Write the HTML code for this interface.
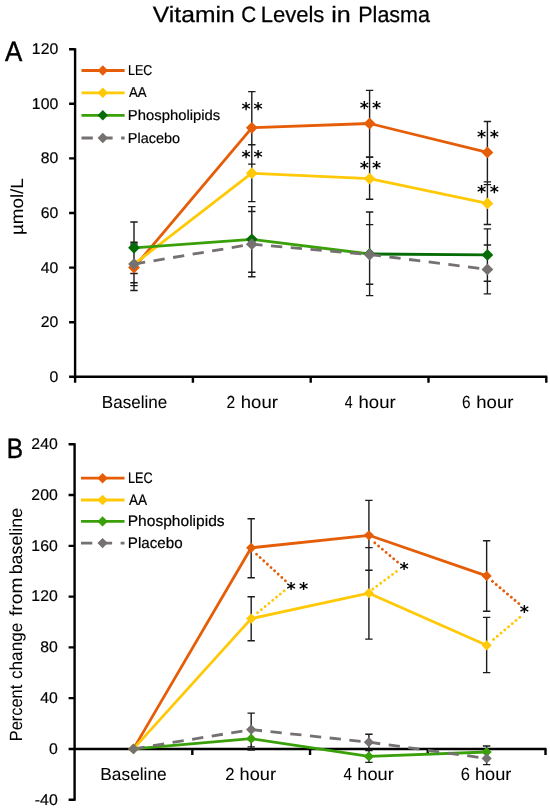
<!DOCTYPE html>
<html lang="en"><head><meta charset="utf-8"><title>Vitamin C Levels in Plasma</title>
<style>html,body{margin:0;padding:0;background:#fff}svg{display:block}text{font-family:"Liberation Sans", "DejaVu Sans", sans-serif;fill:#000;stroke:#000;stroke-width:0.2px;text-rendering:geometricPrecision}.st{font-family:"DejaVu Sans","Liberation Sans",sans-serif;font-weight:bold;stroke:none}.ns{stroke-width:0.25px}.pl{stroke-width:0.45px}.xl{stroke-width:0.06px}</style></head><body>
<svg width="550" height="809" viewBox="0 0 550 809">
<rect width="550" height="809" fill="#fff"/>
<text x="152.88" y="22.1" font-size="22.2" textLength="81.76" lengthAdjust="spacingAndGlyphs" class="ns">Vitamin</text>
<text x="241.26" y="22.1" font-size="22.2" textLength="15.02" lengthAdjust="spacingAndGlyphs" class="ns">C</text>
<text x="260.64" y="22.1" font-size="22.2" textLength="63.75" lengthAdjust="spacingAndGlyphs" class="ns">Levels</text>
<text x="331.27" y="22.1" font-size="22.2" textLength="19.55" lengthAdjust="spacingAndGlyphs" class="ns">in</text>
<text x="358.28" y="22.1" font-size="22.2" textLength="71.71" lengthAdjust="spacingAndGlyphs" class="ns">Plasma</text>
<g id="chartA">
<text x="4.97" y="61.3" font-size="28.2" textLength="17.28" lengthAdjust="spacingAndGlyphs" class="pl">A</text>
<text x="58.2" y="381.8" font-size="15.5" text-anchor="end" textLength="8.77" lengthAdjust="spacingAndGlyphs">0</text>
<text x="58.2" y="327.2" font-size="15.5" text-anchor="end" textLength="17.54" lengthAdjust="spacingAndGlyphs">20</text>
<text x="58.2" y="272.6" font-size="15.5" text-anchor="end" textLength="17.54" lengthAdjust="spacingAndGlyphs">40</text>
<text x="58.2" y="218.0" font-size="15.5" text-anchor="end" textLength="17.54" lengthAdjust="spacingAndGlyphs">60</text>
<text x="58.2" y="163.4" font-size="15.5" text-anchor="end" textLength="17.54" lengthAdjust="spacingAndGlyphs">80</text>
<text x="58.2" y="108.8" font-size="15.5" text-anchor="end" textLength="26.31" lengthAdjust="spacingAndGlyphs">100</text>
<text x="58.2" y="54.2" font-size="15.5" text-anchor="end" textLength="26.31" lengthAdjust="spacingAndGlyphs">120</text>
<text x="-1.32" y="0" font-size="17.6" textLength="56.91" lengthAdjust="spacingAndGlyphs" class="xl" transform="translate(22.7 233.8) rotate(-90)">µmol/L</text>
<text x="101.84" y="407.5" font-size="17.4" textLength="65.35" lengthAdjust="spacingAndGlyphs" class="xl">Baseline</text>
<text x="226.52" y="407.5" font-size="17.4" textLength="8.68" lengthAdjust="spacingAndGlyphs" class="xl">2</text>
<text x="240.8" y="407.5" font-size="17.4" textLength="37.1" lengthAdjust="spacingAndGlyphs" class="xl">hour</text>
<text x="344.7" y="407.5" font-size="17.4" textLength="7.9" lengthAdjust="spacingAndGlyphs" class="xl">4</text>
<text x="358.55" y="407.5" font-size="17.4" textLength="37.1" lengthAdjust="spacingAndGlyphs" class="xl">hour</text>
<text x="462.03" y="407.5" font-size="17.4" textLength="8.58" lengthAdjust="spacingAndGlyphs" class="xl">6</text>
<text x="476.3" y="407.5" font-size="17.4" textLength="37.1" lengthAdjust="spacingAndGlyphs" class="xl">hour</text>
<path d="M75.1 48.2V382.8M69.1 376.8H547.3" stroke="#000" stroke-width="2.4" fill="none"/>
<path d="M69.1 322.20H75.1M69.1 267.60H75.1M69.1 213.00H75.1M69.1 158.40H75.1M69.1 103.80H75.1M69.1 49.20H75.1M192.90 376.8V382.8M310.70 376.8V382.8M428.50 376.8V382.8M546.30 376.8V382.8" stroke="#000" stroke-width="2.4" fill="none"/>
<polyline points="134.00,267.50 251.80,127.80 369.60,123.50 487.40,152.40" fill="none" stroke="#e65d07" stroke-width="2.8" stroke-linejoin="round"/>
<polyline points="134.00,264.20 251.80,173.20 369.60,178.70 487.40,203.40" fill="none" stroke="#ffc907" stroke-width="2.8" stroke-linejoin="round"/>
<polyline points="134.00,247.80 251.80,239.30 369.60,254.00" fill="none" stroke="#3aa00a" stroke-width="2.8" stroke-linejoin="round"/>
<polyline points="369.60,254.00 487.40,254.90" fill="none" stroke="#066d06" stroke-width="2.8" stroke-linejoin="round"/>
<polyline points="134.00,264.10 251.80,244.20 369.60,254.50 487.40,269.40" fill="none" stroke="#767171" stroke-width="2.8" stroke-linejoin="round" stroke-dasharray="11.3 8.52"/>
<path d="M134.00 222.00V290.50M130.30 222.00H137.70M130.30 273.50H137.70M130.30 242.30H137.70M130.30 285.60H137.70M130.30 244.00H137.70M130.30 290.50H137.70M130.30 246.00H137.70M130.30 282.70H137.70" stroke="#1c1c1c" stroke-width="1.4" fill="none"/><path d="M251.80 91.60V201.60M251.80 206.60V276.80M248.10 91.60H255.50M248.10 164.10H255.50M248.10 144.80H255.50M248.10 201.60H255.50M248.10 206.60H255.50M248.10 272.30H255.50M248.10 211.50H255.50M248.10 276.80H255.50" stroke="#1c1c1c" stroke-width="1.4" fill="none"/><path d="M369.60 90.40V199.20M369.60 212.00V295.60M365.90 90.40H373.30M365.90 157.40H373.30M365.90 157.00H373.30M365.90 199.20H373.30M365.90 212.00H373.30M365.90 295.60H373.30M365.90 224.60H373.30M365.90 284.20H373.30" stroke="#1c1c1c" stroke-width="1.4" fill="none"/><path d="M487.40 121.50V224.50M487.40 228.90V293.90M483.70 121.50H491.10M483.70 184.60H491.10M483.70 181.90H491.10M483.70 224.50H491.10M483.70 228.90H491.10M483.70 281.20H491.10M483.70 245.00H491.10M483.70 293.90H491.10" stroke="#1c1c1c" stroke-width="1.4" fill="none"/>
<path d="M128.10 267.50L134.00 261.60L139.90 267.50L134.00 273.40Z" fill="#e65d07"/>
<path d="M245.90 127.80L251.80 121.90L257.70 127.80L251.80 133.70Z" fill="#e65d07"/>
<path d="M363.70 123.50L369.60 117.60L375.50 123.50L369.60 129.40Z" fill="#e65d07"/>
<path d="M481.50 152.40L487.40 146.50L493.30 152.40L487.40 158.30Z" fill="#e65d07"/>
<path d="M245.90 173.20L251.80 167.30L257.70 173.20L251.80 179.10Z" fill="#ffc907"/>
<path d="M363.70 178.70L369.60 172.80L375.50 178.70L369.60 184.60Z" fill="#ffc907"/>
<path d="M481.50 203.40L487.40 197.50L493.30 203.40L487.40 209.30Z" fill="#ffc907"/>
<path d="M128.10 247.80L134.00 241.90L139.90 247.80L134.00 253.70Z" fill="#066d06"/>
<path d="M245.90 239.30L251.80 233.40L257.70 239.30L251.80 245.20Z" fill="#066d06"/>
<path d="M363.70 254.00L369.60 248.10L375.50 254.00L369.60 259.90Z" fill="#066d06"/>
<path d="M481.50 254.90L487.40 249.00L493.30 254.90L487.40 260.80Z" fill="#066d06"/>
<path d="M128.10 264.10L134.00 258.20L139.90 264.10L134.00 270.00Z" fill="#767171"/>
<path d="M245.90 244.20L251.80 238.30L257.70 244.20L251.80 250.10Z" fill="#767171"/>
<path d="M363.70 254.50L369.60 248.60L375.50 254.50L369.60 260.40Z" fill="#767171"/>
<path d="M481.50 269.40L487.40 263.50L493.30 269.40L487.40 275.30Z" fill="#767171"/>
<text class="st" x="241.54" y="114.61" font-size="17.5">*</text><text class="st" x="253.54" y="114.61" font-size="17.5">*</text>
<text class="st" x="241.54" y="162.61" font-size="17.5">*</text><text class="st" x="253.54" y="162.61" font-size="17.5">*</text>
<text class="st" x="359.74" y="114.01" font-size="17.5">*</text><text class="st" x="372.04" y="114.01" font-size="17.5">*</text>
<text class="st" x="359.74" y="173.91" font-size="17.5">*</text><text class="st" x="372.04" y="173.91" font-size="17.5">*</text>
<text class="st" x="477.04" y="143.31" font-size="17.5">*</text><text class="st" x="489.64" y="143.31" font-size="17.5">*</text>
<text class="st" x="477.04" y="198.41" font-size="17.5">*</text><text class="st" x="489.64" y="198.41" font-size="17.5">*</text>
<path d="M81.5 70.5H124.6" stroke="#e65d07" stroke-width="2.8"/>
<path d="M97.60 70.50L102.80 65.30L108.00 70.50L102.80 75.70Z" fill="#e65d07"/>
<text x="128.01" y="75.1" font-size="14.3" textLength="24.09" lengthAdjust="spacingAndGlyphs">LEC</text>
<path d="M81.5 92.8H124.6" stroke="#ffc907" stroke-width="2.8"/>
<path d="M97.60 92.80L102.80 87.60L108.00 92.80L102.80 98.00Z" fill="#ffc907"/>
<text x="128.93" y="97.4" font-size="14.3" textLength="17.62" lengthAdjust="spacingAndGlyphs">AA</text>
<path d="M81.5 115.3H124.6" stroke="#3aa00a" stroke-width="2.8"/>
<path d="M97.60 115.30L102.80 110.10L108.00 115.30L102.80 120.50Z" fill="#066d06"/>
<text x="127.81" y="119.9" font-size="14.3" textLength="92.43" lengthAdjust="spacingAndGlyphs">Phospholipids</text>
<path d="M81.5 138.0H124.6" stroke="#767171" stroke-width="2.8" stroke-dasharray="11.3 8.52"/>
<path d="M97.60 138.00L102.80 132.80L108.00 138.00L102.80 143.20Z" fill="#767171"/>
<text x="127.84" y="142.6" font-size="14.3" textLength="52.22" lengthAdjust="spacingAndGlyphs">Placebo</text>
</g>
<g id="chartB">
<text x="6.74" y="457.6" font-size="28.2" textLength="16.33" lengthAdjust="spacingAndGlyphs" class="pl">B</text>
<text x="57.7" y="804.53" font-size="15.5" text-anchor="end" textLength="22.84" lengthAdjust="spacingAndGlyphs">-40</text>
<text x="57.7" y="753.75" font-size="15.5" text-anchor="end" textLength="8.77" lengthAdjust="spacingAndGlyphs">0</text>
<text x="57.7" y="702.97" font-size="15.5" text-anchor="end" textLength="17.54" lengthAdjust="spacingAndGlyphs">40</text>
<text x="57.7" y="652.19" font-size="15.5" text-anchor="end" textLength="17.54" lengthAdjust="spacingAndGlyphs">80</text>
<text x="57.7" y="601.41" font-size="15.5" text-anchor="end" textLength="26.31" lengthAdjust="spacingAndGlyphs">120</text>
<text x="57.7" y="550.63" font-size="15.5" text-anchor="end" textLength="26.31" lengthAdjust="spacingAndGlyphs">160</text>
<text x="57.7" y="499.85" font-size="15.5" text-anchor="end" textLength="26.31" lengthAdjust="spacingAndGlyphs">200</text>
<text x="57.7" y="449.07" font-size="15.5" text-anchor="end" textLength="26.31" lengthAdjust="spacingAndGlyphs">240</text>
<text x="-1.31" y="0" font-size="17.6" textLength="56.62" lengthAdjust="spacingAndGlyphs" class="xl" transform="translate(21.9 740.0) rotate(-90)">Percent</text>
<text x="-0.77" y="0" font-size="17.6" textLength="56.16" lengthAdjust="spacingAndGlyphs" class="xl" transform="translate(21.9 678.2) rotate(-90)">change</text>
<text x="-0.29" y="0" font-size="17.6" textLength="38.33" lengthAdjust="spacingAndGlyphs" class="xl" transform="translate(21.9 615.7) rotate(-90)">from</text>
<text x="-1.16" y="0" font-size="17.6" textLength="66.47" lengthAdjust="spacingAndGlyphs" class="xl" transform="translate(21.9 573.2) rotate(-90)">baseline</text>
<text x="100.32" y="779.5" font-size="17.4" textLength="66.38" lengthAdjust="spacingAndGlyphs" class="xl">Baseline</text>
<text x="225.26" y="779.5" font-size="17.4" textLength="9.29" lengthAdjust="spacingAndGlyphs" class="xl">2</text>
<text x="239.63" y="779.5" font-size="17.4" textLength="36.37" lengthAdjust="spacingAndGlyphs" class="xl">hour</text>
<text x="343.42" y="779.5" font-size="17.4" textLength="8.45" lengthAdjust="spacingAndGlyphs" class="xl">4</text>
<text x="357.33" y="779.5" font-size="17.4" textLength="36.37" lengthAdjust="spacingAndGlyphs" class="xl">hour</text>
<text x="460.67" y="779.5" font-size="17.4" textLength="9.19" lengthAdjust="spacingAndGlyphs" class="xl">6</text>
<text x="475.03" y="779.5" font-size="17.4" textLength="36.37" lengthAdjust="spacingAndGlyphs" class="xl">hour</text>
<path d="M74.6 443.27V800.73M68.6 748.95H546.5" stroke="#000" stroke-width="2.4" fill="none"/>
<path d="M68.6 799.73H74.6M68.6 698.17H74.6M68.6 647.39H74.6M68.6 596.61H74.6M68.6 545.83H74.6M68.6 495.05H74.6M68.6 444.27H74.6M192.32 748.95V754.95M310.05 748.95V754.95M427.77 748.95V754.95M545.50 748.95V754.95" stroke="#000" stroke-width="2.4" fill="none"/>
<polyline points="133.46,748.90 251.19,547.80 368.91,535.30 486.64,575.90" fill="none" stroke="#e65d07" stroke-width="2.8" stroke-linejoin="round"/>
<polyline points="133.46,748.90 251.19,618.60 368.91,593.20 486.64,645.30" fill="none" stroke="#ffc907" stroke-width="2.8" stroke-linejoin="round"/>
<polyline points="133.46,748.90 251.19,738.70 368.91,756.40 486.64,752.00" fill="none" stroke="#3aa00a" stroke-width="2.8" stroke-linejoin="round"/>
<polyline points="133.46,748.90 251.19,729.60 368.91,742.20 486.64,758.40" fill="none" stroke="#767171" stroke-width="2.8" stroke-linejoin="round" stroke-dasharray="11.3 8.52"/>
<path d="M251.19 518.80V577.70M251.19 596.80V640.70M251.19 713.10V750.00M247.49 518.80H254.89M247.49 577.70H254.89M247.49 596.80H254.89M247.49 640.70H254.89M247.49 713.10H254.89M247.49 746.90H254.89M247.49 729.60H254.89M247.49 750.00H254.89" stroke="#1c1c1c" stroke-width="1.4" fill="none"/><path d="M368.91 500.40V639.10M368.91 734.20V762.40M365.21 500.40H372.61M365.21 570.30H372.61M365.21 547.60H372.61M365.21 639.10H372.61M365.21 734.20H372.61M365.21 750.50H372.61M365.21 750.20H372.61M365.21 762.40H372.61" stroke="#1c1c1c" stroke-width="1.4" fill="none"/><path d="M486.64 540.75V611.30M486.64 617.40V672.60M486.64 746.00V764.60M482.94 540.75H490.34M482.94 611.30H490.34M482.94 617.40H490.34M482.94 672.60H490.34M482.94 746.00H490.34M482.94 758.00H490.34M482.94 752.20H490.34M482.94 764.60H490.34" stroke="#1c1c1c" stroke-width="1.4" fill="none"/>
<path d="M128.36 748.90L133.46 743.80L138.56 748.90L133.46 754.00Z" fill="#e65d07"/>
<path d="M246.09 547.80L251.19 542.70L256.29 547.80L251.19 552.90Z" fill="#e65d07"/>
<path d="M363.81 535.30L368.91 530.20L374.01 535.30L368.91 540.40Z" fill="#e65d07"/>
<path d="M481.54 575.90L486.64 570.80L491.74 575.90L486.64 581.00Z" fill="#e65d07"/>
<path d="M128.36 748.90L133.46 743.80L138.56 748.90L133.46 754.00Z" fill="#ffc907"/>
<path d="M246.09 618.60L251.19 613.50L256.29 618.60L251.19 623.70Z" fill="#ffc907"/>
<path d="M363.81 593.20L368.91 588.10L374.01 593.20L368.91 598.30Z" fill="#ffc907"/>
<path d="M481.54 645.30L486.64 640.20L491.74 645.30L486.64 650.40Z" fill="#ffc907"/>
<path d="M128.36 748.90L133.46 743.80L138.56 748.90L133.46 754.00Z" fill="#3aa00a"/>
<path d="M246.09 738.70L251.19 733.60L256.29 738.70L251.19 743.80Z" fill="#3aa00a"/>
<path d="M363.81 756.40L368.91 751.30L374.01 756.40L368.91 761.50Z" fill="#3aa00a"/>
<path d="M481.54 752.00L486.64 746.90L491.74 752.00L486.64 757.10Z" fill="#3aa00a"/>
<path d="M128.36 748.90L133.46 743.80L138.56 748.90L133.46 754.00Z" fill="#767171"/>
<path d="M246.09 729.60L251.19 724.50L256.29 729.60L251.19 734.70Z" fill="#767171"/>
<path d="M363.81 742.20L368.91 737.10L374.01 742.20L368.91 747.30Z" fill="#767171"/>
<path d="M481.54 758.40L486.64 753.30L491.74 758.40L486.64 763.50Z" fill="#767171"/>
<path d="M256.55 554.2L285.55 580.89" stroke="#e65d07" stroke-width="2.9" stroke-linecap="round" stroke-dasharray="0.01 4.891" fill="none"/>
<path d="M257.6 612.7L284.25 590.82" stroke="#ffc907" stroke-width="2.9" stroke-linecap="round" stroke-dasharray="0.01 4.888" fill="none"/>
<path d="M374.8 542.85L397.65 562.13" stroke="#e65d07" stroke-width="2.9" stroke-linecap="round" stroke-dasharray="0.01 4.940" fill="none"/>
<path d="M372.8 589.1L396.61 571.38" stroke="#ffc907" stroke-width="2.9" stroke-linecap="round" stroke-dasharray="0.01 4.903" fill="none"/>
<path d="M492.5 581.4L518.90 603.63" stroke="#e65d07" stroke-width="2.9" stroke-linecap="round" stroke-dasharray="0.01 4.892" fill="none"/>
<path d="M493.6 639.4L519.90 617.17" stroke="#ffc907" stroke-width="2.9" stroke-linecap="round" stroke-dasharray="0.01 4.881" fill="none"/>
<path d="M128.36 748.90L133.46 743.80L138.56 748.90L133.46 754.00Z" fill="#767171"/>
<text class="st" x="286.61" y="595.06" font-size="17.6">*</text><text class="st" x="298.91" y="595.06" font-size="17.6">*</text>
<text class="st" x="399.61" y="575.16" font-size="17.6">*</text>
<text class="st" x="519.81" y="617.76" font-size="17.6">*</text>
<path d="M81 478.2H124.5" stroke="#e65d07" stroke-width="2.8"/>
<path d="M97.40 478.20L102.60 473.00L107.80 478.20L102.60 483.40Z" fill="#e65d07"/>
<text x="127.99" y="483.1" font-size="15.2" textLength="24.52" lengthAdjust="spacingAndGlyphs">LEC</text>
<path d="M81 500.0H124.5" stroke="#ffc907" stroke-width="2.8"/>
<path d="M97.40 500.00L102.60 494.80L107.80 500.00L102.60 505.20Z" fill="#ffc907"/>
<text x="128.93" y="504.9" font-size="15.2" textLength="18.12" lengthAdjust="spacingAndGlyphs">AA</text>
<path d="M81 521.4H124.5" stroke="#3aa00a" stroke-width="2.8"/>
<path d="M97.40 521.40L102.60 516.20L107.80 521.40L102.60 526.60Z" fill="#3aa00a"/>
<text x="127.76" y="526.3" font-size="15.2" textLength="96.82" lengthAdjust="spacingAndGlyphs">Phospholipids</text>
<path d="M81 543.1H124.5" stroke="#767171" stroke-width="2.8" stroke-dasharray="11.3 8.52"/>
<path d="M97.40 543.10L102.60 537.90L107.80 543.10L102.60 548.30Z" fill="#767171"/>
<text x="127.79" y="548.0" font-size="15.2" textLength="54.8" lengthAdjust="spacingAndGlyphs">Placebo</text>
</g>
</svg></body></html>
